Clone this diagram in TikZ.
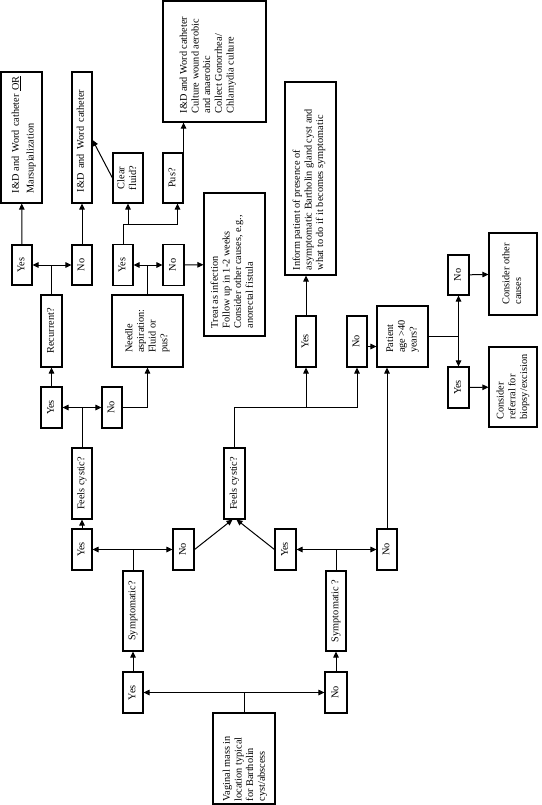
\documentclass[tikz,border=0pt]{standalone}
\usepackage{fontspec}
\setmainfont{Liberation Serif}
\usepackage{graphicx}
\usetikzlibrary{arrows.meta}
\newcommand{\rl}[1]{\rotatebox{90}{\begin{tabular}{@{}l@{}}#1\end{tabular}}}
\newcommand{\rc}[1]{\rotatebox{90}{\begin{tabular}{@{}c@{}}#1\end{tabular}}}
\begin{document}
\begin{tikzpicture}[x=1pt,y=-1pt,
  bx/.style={draw, line width=1.1pt, inner sep=0pt, font=\fontsize{10.3}{11.7}\selectfont},
  sz/.style 2 args={minimum width=#1pt, minimum height=#2pt},
  arr/.style={line width=1pt, -{Triangle[length=6pt,width=5.5pt]}},
  ln/.style={line width=1pt},
  txt/.style={inner sep=0pt, rotate=90, anchor=north west, font=\fontsize{10.3}{11.7}\selectfont}]
\useasboundingbox (0,0) rectangle (541,805);
% top row boxes
\node[bx, sz={41}{131}] (A) at (21.5,137.5) {};
\node[txt] at ([xshift=10pt,yshift=10pt]A.south west) {\spaceskip=3.4pt\begin{tabular}{@{}l@{}}I\&D and Word catheter \underline{OR}\\[3pt]Marsupialization\end{tabular}};
\node[bx, sz={20}{131}] (B) at (82,137.5) {};
\node[txt] at ([xshift=5pt,yshift=11pt]B.south west) {\spaceskip=4.6pt I\&D and Word catheter};
\node[bx, sz={30}{50}] (clear) at (128,178) {\rc{Clear\\fluid?}};
\node[bx, sz={20}{50}] (pus) at (173,178) {\rc{Pus?}};
\node[bx, sz={103}{121}] (cult) at (214.5,61.5) {};
\node[txt] at ([xshift=16pt,yshift=9pt]cult.south west) {\begin{tabular}{@{}l@{}}I\&D and Word catheter\\Culture wound aerobic\\and anaerobic\\Collect Gonorrhea/\\Chlamydia culture\end{tabular}};
% yes/no level 1
\node[bx, sz={20}{40}] (yes1) at (22,265) {\rc{Yes}};
\node[bx, sz={20}{40}] (no1) at (82,265) {\rc{No}};
\node[bx, sz={20}{41}] (yes2) at (123,265) {\rc{Yes}};
\node[bx, sz={21}{41}] (no2) at (173.5,265) {\rc{No}};
\node[bx, sz={61}{143}] (treat) at (234.5,264.5) {};
\node[txt] at ([xshift=6pt,yshift=8pt]treat.south west) {\begin{tabular}{@{}l@{}}Treat as infection\\Follow up in 1-2 weeks\\Consider other causes, e.g.,\\anorectal fistula\end{tabular}};
\node[bx, sz={21}{72}] (recur) at (51.5,331) {\rc{Recurrent?}};
\node[bx, sz={71}{72}] (needle) at (147.5,331) {\rl{Needle\\aspiration:\\Fluid or\\pus?}};
\node[bx, sz={21}{41}] (yes3) at (51.5,407.5) {\rc{Yes}};
\node[bx, sz={20}{41}] (no3) at (112,407.5) {\rc{No}};
\node[bx, sz={20}{71}] (fc1) at (82,483.5) {\rc{Feels cystic?}};
\node[bx, sz={21}{71}] (fc2) at (234.5,483.5) {\rc{Feels cystic?}};
% right part
\node[bx, sz={51}{193}] (inform) at (310.5,178.5) {};
\node[txt] at ([xshift=7pt,yshift=5pt]inform.south west) {\begin{tabular}{@{}l@{}}Inform patient of presence of\\asymptomatic Bartholin gland cyst and\\what to do if it becomes symptomatic\end{tabular}};
\node[bx, sz={20}{51}] (yes5) at (306,341.5) {\rc{Yes}};
\node[bx, sz={20}{51}] (no5) at (357,341.5) {\rc{No}};
\node[bx, sz={51}{61}] (patient) at (402.5,336.5) {\rl{Patient\\age >40\\years?}};
\node[bx, sz={21}{40}] (no6) at (458.5,275) {\rc{No}};
\node[bx, sz={21}{41}] (yes6) at (458.5,387.5) {\rc{Yes}};
\node[bx, sz={48}{82}] (other) at (513,274) {\rl{Consider other\\causes}};
\node[bx, sz={48}{80}] (refer) at (513,387) {\rl{Consider\\referral for\\biopsy/excision}};
% lower part
\node[bx, sz={20}{41}] (yes4a) at (82,549.5) {\rc{Yes}};
\node[bx, sz={21}{41}] (no4a) at (183.5,549.5) {\rc{No}};
\node[bx, sz={21}{41}] (yes4b) at (285.5,549.5) {\rc{Yes}};
\node[bx, sz={20}{41}] (no4b) at (387,549.5) {\rc{No}};
\node[bx, sz={20}{80}] (sym1) at (133,611) {\rc{Symptomatic?}};
\node[bx, sz={20}{80}] (sym2) at (336,611) {\rc{Symptomatic ?}};
\node[bx, sz={20}{41}] (yes7) at (133,692.5) {\rc{Yes}};
\node[bx, sz={22}{41}] (no7) at (336,692.5) {\rc{No}};
\node[bx, sz={62}{91}] (vag) at (244,758.5) {};
\node[txt] at ([xshift=9pt,yshift=3pt]vag.south west) {\begin{tabular}{@{}l@{}}Vaginal mass in\\location typical\\for Bartholin\\cyst/abscess\end{tabular}};
% junction coordinates
\coordinate (j2) at (0,224);
\coordinate (j5) at (0,407);
% connectors
\draw[arr] (vag.north) |- (yes7.east);
\draw[arr] (vag.north) |- (no7.west);
\draw[arr] (yes7) -- (sym1);
\draw[arr] (no7) -- (sym2);
\draw[arr] (sym1.north) |- (yes4a.east);
\draw[arr] (sym1.north) |- (no4a.west);
\draw[arr] (sym2.north) |- (yes4b.east);
\draw[arr] (sym2.north) |- (no4b.west);
\draw[arr] (yes4a) -- (fc1);
\draw[arr] (no4a.east) -- ([xshift=-2pt]fc2.south);
\draw[arr] (yes4b.west) -- ([xshift=2pt]fc2.south);
\draw[arr] (fc1.north) |- (yes3.east);
\draw[arr] (fc1.north) |- (no3.west);
\draw[arr] (yes3) -- (recur);
\draw[arr] (no3.east) -| (needle.south);
\draw[arr] (recur.north) |- (yes1.east);
\draw[arr] (recur.north) |- (no1.west);
\draw[arr] (needle.north) |- (yes2.east);
\draw[arr] (needle.north) |- (no2.west);
\draw[arr] (yes1) -- (A);
\draw[arr] (no1) -- (B);
\draw[arr] (no2) -- (treat);
\draw[ln] (yes2.north) -- (yes2.north |- j2);
\draw[arr] (yes2.north |- j2) -| ([xshift=4.5pt]pus.south);
\draw[arr] (yes2.north |- j2) -| (clear.south);
\draw[arr] (pus.north east) -- (pus.north east |- cult.south);
\draw[arr] (clear.west) -- ([yshift=-2.5pt]B.east);
\draw[ln] (fc2.north) -- (fc2.north |- j5);
\draw[arr] (fc2.north |- j5) -| (yes5.south);
\draw[arr] (fc2.north |- j5) -| (no5.south);
\draw[arr] (yes5.north) -- (yes5.north |- inform.south);
\draw[arr] ([yshift=-5pt]no5.east) -- ([yshift=-5pt]no5.east -| patient.west);
\draw[arr] (no4b.north) -- (no4b.north |- patient.south);
\draw[ln] (patient.east) -- (patient.east -| no6.south);
\draw[arr] (patient.east -| no6.south) -- (no6.south);
\draw[arr] (patient.east -| no6.south) -- (yes6.north);
\draw[arr] (no6) -- (other);
\draw[arr] (yes6) -- (refer);
\end{tikzpicture}
\end{document}
